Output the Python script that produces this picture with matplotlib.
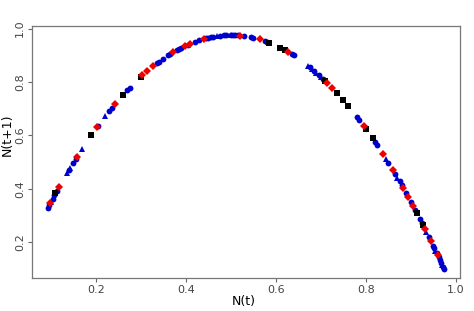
import matplotlib
matplotlib.use("Agg")
import matplotlib.pyplot as plt

# points, grouped by marker
black_x = [0.11, 0.19, 0.26, 0.30, 0.585, 0.61, 0.62, 0.71, 0.735, 0.75, 0.76, 0.80, 0.815, 0.914, 0.927]
black_y = [0.382, 0.600, 0.750, 0.819, 0.947, 0.928, 0.919, 0.803, 0.760, 0.731, 0.711, 0.624, 0.588, 0.307, 0.264]

red_x = [0.098, 0.118, 0.158, 0.203, 0.243, 0.303, 0.314, 0.327, 0.372, 0.398, 0.41, 0.44, 0.521,
         0.565, 0.627, 0.714, 0.725, 0.796, 0.838, 0.86, 0.883, 0.895, 0.905, 0.932, 0.945, 0.96]
red_y = [0.345, 0.406, 0.519, 0.631, 0.718, 0.824, 0.840, 0.858, 0.911, 0.934, 0.943, 0.961, 0.973,
         0.959, 0.912, 0.796, 0.778, 0.633, 0.530, 0.470, 0.403, 0.367, 0.335, 0.247, 0.203, 0.150]

tri_x = [0.10, 0.136, 0.143, 0.17, 0.221, 0.47, 0.50, 0.672, 0.68, 0.69, 0.70, 0.845, 0.87, 0.935, 0.955, 0.97]
tri_y = [0.351, 0.458, 0.478, 0.550, 0.671, 0.971, 0.975, 0.860, 0.849, 0.834, 0.819, 0.511, 0.441, 0.237, 0.168, 0.113]

circ_x = [0.093, 0.096, 0.104, 0.108, 0.113, 0.14, 0.15, 0.155, 0.205, 0.23, 0.235, 0.27, 0.275,
          0.335, 0.34, 0.35, 0.36, 0.365, 0.38, 0.385, 0.39, 0.405, 0.42, 0.43, 0.445, 0.45, 0.455,
          0.46, 0.475, 0.485, 0.49, 0.50, 0.505, 0.51, 0.515, 0.53, 0.545, 0.55, 0.575, 0.58, 0.635,
          0.64, 0.675, 0.685, 0.695, 0.705, 0.78, 0.785, 0.82, 0.825, 0.85, 0.865, 0.875, 0.88, 0.89,
          0.90, 0.91, 0.92, 0.925, 0.94, 0.95, 0.952, 0.958, 0.962, 0.965, 0.968, 0.972, 0.974]
circ_y = [0.329, 0.338, 0.363, 0.376, 0.391, 0.470, 0.497, 0.511, 0.636, 0.691, 0.701, 0.769, 0.778,
          0.869, 0.875, 0.887, 0.899, 0.904, 0.919, 0.923, 0.928, 0.940, 0.950, 0.956, 0.963, 0.965, 0.967,
          0.969, 0.973, 0.974, 0.975, 0.975, 0.975, 0.975, 0.974, 0.971, 0.967, 0.965, 0.953, 0.950, 0.904,
          0.899, 0.856, 0.842, 0.827, 0.811, 0.669, 0.658, 0.576, 0.563, 0.497, 0.455, 0.427, 0.412, 0.382,
          0.351, 0.319, 0.287, 0.271, 0.220, 0.185, 0.178, 0.157, 0.142, 0.132, 0.121, 0.106, 0.099]

xticks = [0.2, 0.4, 0.6, 0.8, 1.0]
yticks = [0.2, 0.4, 0.6, 0.8, 1.0]

fig = plt.figure(figsize=(4.74, 3.11), dpi=100)
ax = fig.add_axes([0.0675, 0.106, 0.9025, 0.81])

blue = "#0000CC"
ax.plot(circ_x, circ_y, "o", color=blue, ms=4.2, mew=0)
ax.plot(tri_x, tri_y, "^", color=blue, ms=4.5, mew=0)
ax.plot(black_x, black_y, "s", color="black", ms=4.0, mew=0)
ax.plot(red_x, red_y, "D", color="#EE0000", ms=3.6, mew=0)

ax.set_xlim(0.058, 1.009)
ax.set_ylim(0.065, 1.009)
ax.set_xticks(xticks)
ax.set_yticks(yticks)
ax.set_xticklabels([str(t) for t in xticks])
ax.set_yticklabels([str(t) for t in yticks], rotation=90, va="center")
ax.tick_params(direction="out", length=3, width=0.8, pad=2, colors="#666666",
               labelsize=8, labelcolor="#444444")
for s in ax.spines.values():
    s.set_color("#777777")
    s.set_linewidth(0.9)

fig.text(244 / 474, 1 - 302 / 311, "N(t)", fontsize=9, ha="center", va="center")
fig.text(7 / 474, 1 - 135 / 311, "N(t+1)", fontsize=9, ha="center", va="center", rotation=90)

fig.savefig("out.png", dpi=100)
